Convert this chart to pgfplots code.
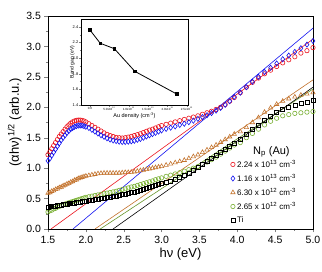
\documentclass[border=0pt]{standalone}
\usepackage{pgfplots}
\usepackage{pgfplotstable}
\pgfplotsset{compat=1.18}
\usepackage{fontspec}
\setmainfont{Liberation Sans}
\definecolor{cred}{RGB}{235,20,30}
\definecolor{cblue}{RGB}{20,20,240}
\definecolor{cbrown}{RGB}{195,115,45}
\definecolor{cgreen}{RGB}{120,175,50}

\pgfplotstableread{
E R B O G K
1.500 1.22 1.12 0.59 0.28 0.36
1.525 1.27 1.16 0.60 0.30 0.365
1.550 1.32 1.21 0.62 0.31 0.37
1.575 1.37 1.26 0.63 0.33 0.375
1.600 1.42 1.31 0.65 0.34 0.38
1.625 1.47 1.36 0.66 0.36 0.385
1.650 1.52 1.41 0.68 0.37 0.39
1.675 1.56 1.46 0.69 0.39 0.395
1.700 1.60 1.50 0.71 0.40 0.40
1.725 1.64 1.54 0.72 0.41 0.405
1.750 1.68 1.58 0.74 0.42 0.41
1.775 1.71 1.61 0.75 0.43 0.415
1.800 1.74 1.64 0.77 0.44 0.42
1.825 1.76 1.66 0.78 0.45 0.425
1.850 1.775 1.68 0.80 0.46 0.43
1.875 1.785 1.69 0.81 0.47 0.435
1.900 1.79 1.70 0.83 0.48 0.44
1.925 1.79 1.70 0.84 0.49 0.445
1.950 1.785 1.70 0.85 0.50 0.45
1.975 1.775 1.69 0.86 0.51 0.455
2.000 1.76 1.68 0.87 0.52 0.46
2.04 1.73 1.66 0.88 0.53 0.465
2.08 1.70 1.63 0.89 0.54 0.47
2.12 1.67 1.60 0.90 0.55 0.48
2.16 1.64 1.57 0.91 0.56 0.49
2.20 1.61 1.54 0.915 0.57 0.50
2.24 1.58 1.515 0.92 0.58 0.51
2.28 1.555 1.49 0.92 0.59 0.52
2.32 1.535 1.47 0.92 0.60 0.525
2.36 1.52 1.455 0.92 0.61 0.535
2.40 1.505 1.445 0.92 0.62 0.545
2.44 1.50 1.435 0.92 0.635 0.555
2.48 1.495 1.43 0.925 0.65 0.565
2.52 1.50 1.43 0.93 0.66 0.575
2.56 1.51 1.435 0.93 0.675 0.585
2.60 1.52 1.44 0.935 0.69 0.60
2.64 1.535 1.45 0.94 0.70 0.61
2.68 1.55 1.465 0.95 0.715 0.625
2.72 1.565 1.48 0.96 0.73 0.64
2.76 1.585 1.50 0.97 0.745 0.655
2.80 1.605 1.52 0.98 0.76 0.67
2.84 1.625 1.54 0.99 0.775 0.685
2.88 1.64 1.56 1.00 0.79 0.70
2.92 1.66 1.58 1.01 0.81 0.72
2.96 1.68 1.60 1.02 0.825 0.735
3.00 1.70 1.62 1.03 0.84 0.75
3.06 1.72 1.645 1.05 0.865 0.77
3.12 1.74 1.665 1.07 0.885 0.79
3.18 1.76 1.685 1.09 0.905 0.815
3.24 1.78 1.71 1.11 0.925 0.845
3.30 1.80 1.73 1.13 0.95 0.88
3.36 1.82 1.755 1.16 0.975 0.92
3.42 1.84 1.78 1.19 1.00 0.965
3.48 1.86 1.81 1.22 1.025 1.01
3.54 1.885 1.84 1.26 1.06 1.06
3.60 1.91 1.87 1.30 1.10 1.11
3.66 1.935 1.905 1.34 1.14 1.16
3.72 1.965 1.945 1.38 1.18 1.21
3.78 2.00 1.99 1.425 1.23 1.26
3.84 2.045 2.04 1.47 1.28 1.31
3.90 2.10 2.10 1.515 1.33 1.36
3.96 2.16 2.17 1.56 1.38 1.41
4.04 2.24 2.24 1.60 1.42 1.47
4.12 2.33 2.33 1.67 1.50 1.55
4.20 2.41 2.42 1.75 1.57 1.63
4.28 2.48 2.50 1.83 1.64 1.71
4.36 2.55 2.58 1.92 1.71 1.78
4.44 2.61 2.65 1.99 1.77 1.85
4.52 2.67 2.72 2.05 1.82 1.91
4.60 2.73 2.79 2.10 1.86 1.96
4.68 2.78 2.85 2.14 1.88 2.00
4.76 2.83 2.91 2.17 1.90 2.04
4.84 2.89 2.97 2.20 1.91 2.07
4.92 2.93 3.03 2.22 1.92 2.09
5.00 2.98 3.09 2.24 1.93 2.11
}\maindata

\pgfplotstableread{
N Eg
0.0 2.36
2.65 2.19
6.30 2.12
11.6 1.83
22.4 1.54
}\insetdata

\begin{document}
\begin{tikzpicture}
\begin{axis}[
  at={(0,0)}, anchor=south west,
  width=265pt, height=213pt, scale only axis,
  xmin=1.5, xmax=5.0, ymin=0, ymax=3.5,
  xtick={1.5,2.0,...,5.0}, ytick={0,0.5,...,3.5},
  minor x tick num=1, minor y tick num=1,
  tick pos=left, tick align=outside,
  major tick length=3.5pt, minor tick length=2pt,
  /pgf/number format/assume math mode=true,
  xticklabel style={/pgf/number format/.cd, fixed, fixed zerofill, precision=1},
  yticklabel style={/pgf/number format/.cd, fixed, fixed zerofill, precision=1},
  tick label style={font=\fontsize{10.5}{12}\selectfont},
  xlabel={hν (eV)}, ylabel={(αhν)\textsuperscript{1/2} (arb.u.)},
  label style={font=\fontsize{13}{15}\selectfont},
  xlabel style={yshift=2pt},
  ylabel style={yshift=-2pt},
  legend cell align=left,
  legend image code/.code={\draw[mark repeat=2,mark phase=2,#1] plot coordinates {(0cm,0cm) (0.15cm,0cm) (0.3cm,0cm)};},
  legend style={at={(0.685,0.338)}, anchor=north west, draw=none, fill=none,
    font=\fontsize{8}{9}\selectfont, row sep=1.5pt, inner sep=1pt},
  mark size=2.2pt,
]
\addplot[only marks, mark=o, color=cred, line width=0.6pt] table[x=E, y=R] {\maindata};
\addlegendentry{2.24 x 10\textsuperscript{13} cm\textsuperscript{-3}}
\addplot[only marks, mark=diamond, mark size=2.6pt, color=cblue, line width=0.6pt] table[x=E, y=B] {\maindata};
\addlegendentry{1.16 x 10\textsuperscript{13} cm\textsuperscript{-3}}
\addplot[only marks, mark=triangle, mark size=2.5pt, color=cbrown, line width=0.6pt] table[x=E, y=O] {\maindata};
\addlegendentry{6.30 x 10\textsuperscript{12} cm\textsuperscript{-3}}
\addplot[only marks, mark=o, color=cgreen, line width=0.6pt] table[x=E, y=G] {\maindata};
\addlegendentry{2.65 x 10\textsuperscript{12} cm\textsuperscript{-3}}
\addplot[only marks, mark=square, mark size=2pt, color=black, line width=0.6pt] table[x=E, y=K] {\maindata};
\addlegendentry{Ti}
\addplot[cred, line width=0.6pt, forget plot] coordinates {(1.54,0) (5.0,3.12)};
\addplot[cblue, line width=0.6pt, forget plot] coordinates {(1.83,0) (5.0,3.30)};
\addplot[cbrown, line width=0.6pt, forget plot] coordinates {(2.12,0) (5.0,2.45)};
\addplot[cgreen!85!black, line width=0.6pt, forget plot] coordinates {(2.19,0) (5.0,2.30)};
\addplot[black, line width=0.6pt, forget plot] coordinates {(2.36,0) (5.0,2.33)};
\node[font=\fontsize{11}{12}\selectfont] at (axis cs:4.45,1.27) {N\textsubscript{p} (Au)};
\end{axis}

\begin{axis}[
  at={(33pt,124pt)}, anchor=south west,
  width=107pt, height=86pt, scale only axis,
  axis background/.style={fill=white},
  xmin=-2.3, xmax=25.3, ymin=1.4, ymax=2.5,
  xtick={0,5,10,15,20,25},
  xticklabels={0.0, 5.0x10\textsuperscript{12}, 1.0x10\textsuperscript{13}, 1.5x10\textsuperscript{13}, 2.0x10\textsuperscript{13}, 2.5x10\textsuperscript{13}},
  ytick={1.4,1.6,...,2.4},
  minor x tick num=1, minor y tick num=1,
  tick pos=left, tick align=outside,
  major tick length=2pt, minor tick length=1pt,
  /pgf/number format/assume math mode=true,
  yticklabel style={/pgf/number format/.cd, fixed, fixed zerofill, precision=1},
  tick label style={font=\fontsize{4}{5}\selectfont, inner sep=0.5pt},
  xticklabel style={font=\fontsize{3}{4}\selectfont, inner sep=0pt},
  xlabel={Au density (cm\textsuperscript{-3})}, ylabel={Band gap (eV)},
  xlabel style={font=\fontsize{5.5}{6}\selectfont, yshift=1.5pt},
  ylabel style={font=\fontsize{5}{6}\selectfont, yshift=-6pt},
]
\addplot[black, line width=0.8pt, mark=square*, mark size=1.2pt] table[x=N, y=Eg] {\insetdata};
\end{axis}
\pgfresetboundingbox
\path (-48pt,-43pt) rectangle (274pt,229pt);
\end{tikzpicture}
\end{document}
